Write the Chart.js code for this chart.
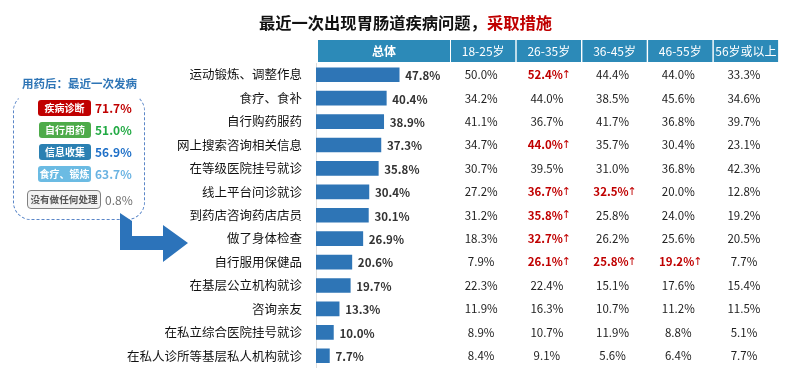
<!DOCTYPE html>
<html><head><meta charset="utf-8">
<script src="https://cdn.jsdelivr.net/npm/chart.js@4.4.1/dist/chart.umd.min.js"></script>
<style>
html,body{margin:0;padding:0;background:#fff;}
#wrap{position:relative;width:800px;height:389px;overflow:hidden;font-family:"Noto Sans CJK SC","Noto Sans",sans-serif;}
canvas{position:absolute;left:0;top:0;}
#title{position:absolute;left:0;width:811px;top:10px;text-align:center;font-size:16.3px;font-weight:bold;color:#111;line-height:24px;white-space:nowrap;}
#subtitle{position:absolute;left:22px;top:74px;font-size:11.5px;font-weight:bold;color:#2E75B6;line-height:18px;white-space:nowrap;}
#dash{position:absolute;left:13px;top:93px;width:130px;height:125px;border:1.5px dashed #5A86C8;border-top-color:transparent;border-radius:18px;}
.pill{position:absolute;height:16px;line-height:16px;border-radius:3px;color:#fff;font-size:10px;font-weight:bold;text-align:center;white-space:nowrap;}
.pct{position:absolute;font-size:12px;font-weight:bold;line-height:16px;white-space:nowrap;}
#arrow{position:absolute;left:0;top:0;}
</style></head>
<body>
<div id="wrap">
<canvas id="c" width="800" height="389"></canvas>
<div id="title">最近一次出现胃肠道疾病问题，<span style="color:#C00000">采取措施</span></div>
<div id="subtitle"></div>
<div id="dash"></div>
<div id="legendBox"></div>
<svg id="arrow" width="800" height="389"><polygon points="120,213 132,221 132,236 163,236 163,225 188,243 163,262 163,250 120,250" fill="#2C73BA"/></svg>
</div>
<script>
const categories = ['运动锻炼、调整作息','食疗、食补','自行购药服药','网上搜索咨询相关信息','在等级医院挂号就诊','线上平台问诊就诊','到药店咨询药店店员','做了身体检查','自行服用保健品','在基层公立机构就诊','咨询亲友','在私立综合医院挂号就诊','在私人诊所等基层私人机构就诊'];
const overall  = [47.8, 40.4, 38.9, 37.3, 35.8, 30.4, 30.1, 26.9, 20.6, 19.7, 13.3, 10.0, 7.7];
const age18_25 = [50.0, 34.2, 41.1, 34.7, 30.7, 27.2, 31.2, 18.3, 7.9, 22.3, 11.9, 8.9, 8.4];
const age26_35 = [52.4, 44.0, 36.7, 44.0, 39.5, 36.7, 35.8, 32.7, 26.1, 22.4, 16.3, 10.7, 9.1];
const age36_45 = [44.4, 38.5, 41.7, 35.7, 31.0, 32.5, 25.8, 26.2, 25.8, 15.1, 10.7, 11.9, 5.6];
const age46_55 = [44.0, 45.6, 36.8, 30.4, 36.8, 20.0, 24.0, 25.6, 19.2, 17.6, 11.2, 8.8, 6.4];
const age56up  = [33.3, 34.6, 39.7, 23.1, 42.3, 12.8, 19.2, 20.5, 7.7, 15.4, 11.5, 5.1, 7.7];
const hi26_35 = [0, 3, 5, 6, 7, 8];
const hi36_45 = [5, 8];
const hi46_55 = [8];
const hi18_25 = [];
const hi56up = [];
const columnHeaders = ['总体','18-25岁','26-35岁','36-45岁','46-55岁','56岁或以上'];
const legendTitle = '用药后：最近一次发病';
const legendNames = ['疾病诊断','自行用药','信息收集','食疗、锻炼','没有做任何处理'];
const legendValues = [71.7, 51.0, 56.9, 63.7, 0.8];

document.getElementById('subtitle').textContent = legendTitle;
const pillStyles = [
  {bg:'#C00000', color:'#C00000', x:38, y:100, w:53},
  {bg:'#4EAB4A', color:'#22AA44', x:39, y:122, w:52},
  {bg:'#2A80B2', color:'#1F70C8', x:39, y:144, w:52},
  {bg:'#6BBBE3', color:'#6AB3E2', x:38, y:166, w:53},
  {bg:'#F2F2F2', color:'#707070', x:27, y:190, w:72}
];
const lb = document.getElementById('legendBox');
legendNames.forEach((n,i)=>{
  const s = pillStyles[i];
  const p = document.createElement('div');
  p.className='pill'; p.textContent=n;
  p.style.left=s.x+'px'; p.style.top=s.y+'px'; p.style.width=s.w+'px'; p.style.background=s.bg;
  if(i===4){p.style.color='#555';p.style.border='1.5px solid #808080';p.style.borderRadius='4px';p.style.height='17px';p.style.lineHeight='17px';p.style.fontSize='9.6px';}
  lb.appendChild(p);
  const t = document.createElement('div');
  t.className='pct'; t.textContent=legendValues[i].toFixed(1)+'%';
  t.style.left=(s.x+s.w+(i===4?6:4))+'px'; t.style.top=(s.y+(i===4?2:0))+'px'; t.style.color=s.color;
  if(i===4){t.style.fontWeight='normal';}
  lb.appendChild(t);
});

const ageCols = [
  {vals:age18_25, hi:hi18_25},
  {vals:age26_35, hi:hi26_35},
  {vals:age36_45, hi:hi36_45},
  {vals:age46_55, hi:hi46_55},
  {vals:age56up, hi:hi56up}
];
const FONT = '"Noto Sans CJK SC","Noto Sans",sans-serif';

const tablePlugin = {
  id:'tablePlugin',
  afterDraw(chart){
    const {ctx, chartArea} = chart;
    const y = chart.scales.y;
    ctx.save();
    const hTop = 40, hH = 22;
    const cells = [{x0:chartArea.left+2, x1:chartArea.right}];
    for(let i=0;i<5;i++){ const x0 = 451 + i*65.7; cells.push({x0:x0, x1:x0+64.3}); }
    ctx.fillStyle = '#2C8AB8';
    cells.forEach(c=>ctx.fillRect(c.x0, hTop, c.x1-c.x0, hH));
    ctx.fillStyle = '#fff';
    ctx.textAlign='center'; ctx.textBaseline='middle';
    columnHeaders.forEach((h,i)=>{
      ctx.font = (i===0?'bold ':'')+'12px '+FONT;
      ctx.fillText(h, (cells[i].x0+cells[i].x1)/2, hTop+hH/2+0.5);
    });
    ageCols.forEach((col,ci)=>{
      const cx = (cells[ci+1].x0+cells[ci+1].x1)/2 - 2;
      col.vals.forEach((v,ri)=>{
        const py = y.getPixelForValue(ri);
        const txt = v.toFixed(1)+'%';
        if(col.hi.includes(ri)){
          ctx.font = 'bold 11.5px '+FONT;
          const w1 = ctx.measureText(txt).width;
          ctx.font = '11px "DejaVu Sans"';
          const w2 = ctx.measureText('↑').width - 2;
          const sx = cx - (w1+w2)/2 + 2;
          ctx.textAlign='left';
          ctx.fillStyle='#C00000';
          ctx.font = 'bold 11.5px '+FONT;
          ctx.fillText(txt, sx, py);
          ctx.font = '11px "DejaVu Sans"';
          ctx.fillText('↑', sx+w1-1, py);
          ctx.textAlign='center';
        } else {
          ctx.font = '11.5px '+FONT;
          ctx.fillStyle='#222';
          ctx.fillText(txt, cx, py);
        }
      });
    });
    const meta = chart.getDatasetMeta(0);
    ctx.font = 'bold 11.5px '+FONT;
    ctx.fillStyle = '#333';
    ctx.textAlign='left';
    meta.data.forEach((bar,i)=>{
      ctx.fillText(overall[i].toFixed(1)+'%', bar.x+6, bar.y+1);
    });
    ctx.restore();
  }
};

new Chart(document.getElementById('c'), {
  type:'bar',
  data:{labels:categories, datasets:[{data:overall, backgroundColor:'#2E75B6', borderWidth:0, barThickness:14}]},
  options:{
    indexAxis:'y', responsive:false, animation:false, devicePixelRatio:1,
    layout:{padding:{top:63, bottom:13, left:0, right:350}},
    plugins:{legend:{display:false}, tooltip:{enabled:false}},
    scales:{
      x:{display:false, min:0, max:77},
      y:{
        grid:{display:false, drawTicks:false},
        border:{display:true, color:'#DDDDDD', width:1},
        ticks:{color:'#111', padding:14, font:{family:FONT, size:12.5}},
        afterFit(s){ s.width = 316; }
      }
    }
  },
  plugins:[tablePlugin]
});
</script>
</body></html>
